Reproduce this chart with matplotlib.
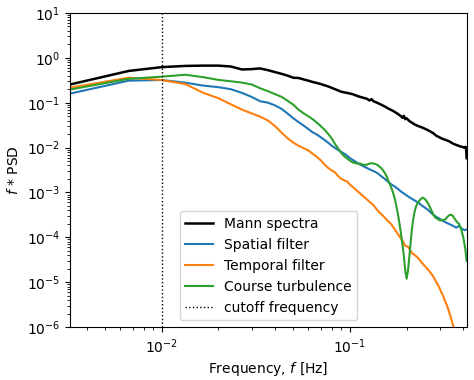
import matplotlib
matplotlib.use('Agg')
import matplotlib.pyplot as plt
import matplotlib.ticker as mticker
import numpy as np

# Mann spectra (black)
f_mann = [0.00333, 0.00667, 0.01, 0.01333, 0.01667, 0.02, 0.0233, 0.0267, 0.03, 0.0333,
          0.0367, 0.04, 0.0433, 0.0467, 0.05, 0.0533, 0.0567, 0.06, 0.0633, 0.0667,
          0.07, 0.0767, 0.0833, 0.09, 0.0967, 0.1033, 0.11, 0.1167, 0.1233, 0.1267,
          0.13, 0.1333, 0.14, 0.1467, 0.1533, 0.16, 0.1667, 0.1733, 0.18, 0.1867,
          0.19, 0.1933, 0.1967, 0.2, 0.2067, 0.2133, 0.22, 0.2267, 0.2367, 0.2467,
          0.2567, 0.2667, 0.2767, 0.2867, 0.2967, 0.3067, 0.3167, 0.3267, 0.3367, 0.3467,
          0.3567, 0.3667, 0.3767, 0.3867, 0.3967, 0.4067, 0.41, 0.4133, 0.4167]
p_mann = [0.26, 0.51, 0.62, 0.66, 0.67, 0.67, 0.64, 0.55, 0.56, 0.58,
          0.53, 0.48, 0.44, 0.40, 0.36, 0.355, 0.33, 0.31, 0.29, 0.275,
          0.26, 0.23, 0.2, 0.175, 0.165, 0.155, 0.14, 0.13, 0.122, 0.112,
          0.12, 0.108, 0.099, 0.09, 0.082, 0.074, 0.068, 0.062, 0.056, 0.05,
          0.046, 0.051, 0.043, 0.045, 0.039, 0.036, 0.033, 0.031, 0.029, 0.027,
          0.025, 0.023, 0.021, 0.0185, 0.0172, 0.016, 0.0152, 0.0145, 0.0138, 0.0128,
          0.012, 0.0115, 0.011, 0.0106, 0.0103, 0.0099, 0.0104, 0.0102, 0.0058]

# Spatial filter (blue)
f_spat = [0.00333, 0.00667, 0.01, 0.01333, 0.01667, 0.02, 0.0233, 0.0267, 0.03, 0.0333,
          0.0367, 0.04, 0.0433, 0.0467, 0.05, 0.0533, 0.0567, 0.06, 0.0633, 0.0667,
          0.07, 0.0733, 0.0767, 0.08, 0.0833, 0.0867, 0.09, 0.0933, 0.0967, 0.1,
          0.1067, 0.1133, 0.12, 0.1267, 0.1333, 0.14, 0.1467, 0.1533, 0.16, 0.1667,
          0.1733, 0.18, 0.1867, 0.1933, 0.2, 0.21, 0.22, 0.23, 0.24, 0.25,
          0.26, 0.27, 0.28, 0.29, 0.3, 0.3133, 0.3267, 0.34, 0.3533, 0.3667,
          0.38, 0.3933, 0.4067, 0.4167]
p_spat = [0.163, 0.31, 0.32, 0.28, 0.24, 0.222, 0.2, 0.165, 0.135, 0.108,
          0.1, 0.087, 0.073, 0.057, 0.045, 0.037, 0.031, 0.026, 0.022, 0.0195,
          0.017, 0.0148, 0.0128, 0.011, 0.0098, 0.0088, 0.008, 0.0073, 0.0066, 0.0058,
          0.0049, 0.0042, 0.0037, 0.0033, 0.003, 0.0027, 0.0023, 0.002, 0.0017, 0.0015,
          0.00135, 0.0012, 0.00105, 9.5e-4, 8.6e-4, 7.5e-4, 6.7e-4, 6.0e-4, 5.2e-4, 4.6e-4,
          4.1e-4, 3.5e-4, 3.1e-4, 2.8e-4, 2.6e-4, 2.3e-4, 2.1e-4, 1.95e-4, 1.8e-4, 1.65e-4,
          1.8e-4, 1.55e-4, 1.45e-4, 1.5e-4]

# Temporal filter (orange)
f_temp = [0.00333, 0.00667, 0.01, 0.01333, 0.01667, 0.02, 0.0233, 0.0267, 0.03, 0.0333,
          0.0367, 0.04, 0.0433, 0.0467, 0.05, 0.0533, 0.0567, 0.06, 0.0633, 0.0667,
          0.07, 0.0733, 0.0767, 0.08, 0.0833, 0.0867, 0.09, 0.0967, 0.1, 0.1167,
          0.1333, 0.14, 0.15, 0.1667, 0.1833, 0.19, 0.1967, 0.2033, 0.2133, 0.2267,
          0.2433, 0.2633, 0.2767, 0.2967, 0.3133, 0.33, 0.3467, 0.36]
p_temp = [0.22, 0.36, 0.32, 0.26, 0.165, 0.126, 0.092, 0.07, 0.058, 0.049,
          0.04, 0.030, 0.0215, 0.016, 0.0129, 0.011, 0.0097, 0.0087, 0.0073, 0.0062,
          0.0052, 0.0042, 0.0035, 0.0031, 0.0028, 0.0023, 0.002, 0.00175, 0.0015, 0.00085,
          0.00052, 0.0004, 0.0003, 0.00019, 0.000105, 8.5e-5, 6.5e-5, 6.2e-5, 4.5e-5, 3.7e-5,
          2.6e-5, 1.8e-5, 1.35e-5, 8e-6, 4.8e-6, 2.8e-6, 1.45e-6, 8e-7]

# Course turbulence (green)
f_turb = [0.00333, 0.00667, 0.01, 0.01333, 0.01667, 0.02, 0.0233, 0.0267, 0.03, 0.0333,
          0.0367, 0.04, 0.0433, 0.0467, 0.05, 0.0533, 0.0567, 0.06, 0.0633, 0.0667,
          0.07, 0.0733, 0.0767, 0.08, 0.0833, 0.0867, 0.09, 0.0933, 0.0967, 0.1,
          0.1033, 0.1067, 0.11, 0.1133, 0.1167, 0.12, 0.1233, 0.1267, 0.13, 0.1333,
          0.1367, 0.14, 0.1433, 0.1467, 0.15, 0.1533, 0.1567, 0.16, 0.1633, 0.1667,
          0.17, 0.1733, 0.1767, 0.18, 0.1833, 0.1867, 0.19, 0.1933, 0.1967, 0.2,
          0.2033, 0.2067, 0.21, 0.2133, 0.2167, 0.22, 0.2233, 0.2267, 0.23, 0.2367,
          0.2433, 0.25, 0.2567, 0.2633, 0.27, 0.2767, 0.2833, 0.29, 0.3, 0.31,
          0.32, 0.33, 0.34, 0.35, 0.36, 0.37, 0.38, 0.39, 0.4, 0.41, 0.4167]
p_turb = [0.2, 0.34, 0.38, 0.42, 0.37, 0.322, 0.3, 0.28, 0.255, 0.21,
          0.18, 0.155, 0.135, 0.11, 0.09, 0.07, 0.058, 0.05, 0.043, 0.036,
          0.03, 0.025, 0.02, 0.016, 0.012, 0.0095, 0.0075, 0.0064, 0.0057, 0.0051,
          0.0047, 0.0045, 0.0044, 0.0044, 0.0042, 0.0041, 0.0042, 0.0044, 0.0045, 0.0044,
          0.0043, 0.0041, 0.0038, 0.0035, 0.0031, 0.0027, 0.0023, 0.0018, 0.0015, 0.0012,
          9.5e-4, 7e-4, 4.8e-4, 3.2e-4, 2e-4, 1.2e-4, 7e-5, 3.8e-5, 1.8e-5, 1.2e-5,
          1.8e-5, 3.7e-5, 7.5e-5, 1.5e-4, 2.5e-4, 3.6e-4, 4.6e-4, 5.4e-4, 6e-4, 7e-4,
          7.7e-4, 7.2e-4, 6.2e-4, 5.2e-4, 4.1e-4, 3.3e-4, 2.8e-4, 2.6e-4, 2.4e-4, 2.4e-4,
          2.5e-4, 2.9e-4, 3.2e-4, 3.1e-4, 2.6e-4, 2.2e-4, 2.0e-4, 1.5e-4, 1.0e-4, 5.5e-5, 3e-5]

f_cutoff = 0.01

fig = plt.figure(figsize=(4.74, 3.8), dpi=100)
ax = fig.add_axes([0.148, 0.139, 0.837, 0.827])

ax.loglog(f_mann, p_mann, color='black', lw=1.8, label='Mann spectra')
ax.loglog(f_spat, p_spat, color='tab:blue', lw=1.5, label='Spatial filter')
ax.loglog(f_temp, p_temp, color='tab:orange', lw=1.5, label='Temporal filter')
ax.loglog(f_turb, p_turb, color='tab:green', lw=1.5, label='Course turbulence')
ax.axvline(f_cutoff, color='black', ls=':', lw=1, label='cutoff frequency')

ax.set_xlim(0.00326, 0.418)
ax.set_ylim(1e-6, 10)
ax.yaxis.set_major_locator(mticker.LogLocator(base=10, numticks=20))
ax.yaxis.set_minor_locator(mticker.LogLocator(base=10, subs=np.arange(2, 10), numticks=100))
ax.yaxis.set_minor_formatter(mticker.NullFormatter())
ax.xaxis.set_minor_formatter(mticker.NullFormatter())
ax.set_xlabel(r'Frequency, $f$ [Hz]', labelpad=3)
ax.set_ylabel(r'$f$ * PSD')
ax.legend(loc='lower center')

fig.savefig('out.png', dpi=100)
